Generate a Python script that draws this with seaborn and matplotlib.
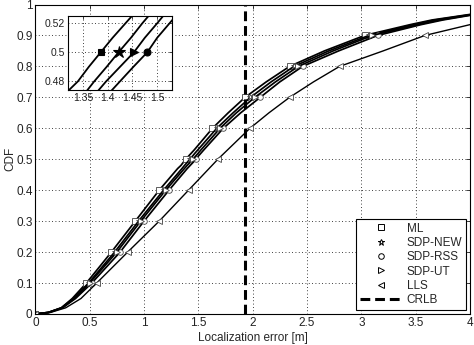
import numpy as np
import matplotlib
matplotlib.use("Agg")
import matplotlib.pyplot as plt
from matplotlib.lines import Line2D
import seaborn as sns

# ---------------- data ----------------
ml_y = [0, 0.005, 0.02, 0.05, 0.1, 0.2, 0.3, 0.4, 0.47, 0.48, 0.49, 0.5, 0.51, 0.52, 0.53,
        0.6, 0.65, 0.7, 0.75, 0.8, 0.85, 0.9, 0.935, 0.95, 0.968]
ml_x = [0, 0.12, 0.24, 0.34, 0.47, 0.70, 0.92, 1.14, 1.31, 1.34, 1.362, 1.386, 1.41, 1.436, 1.462,
        1.63, 1.775, 1.93, 2.125, 2.34, 2.66, 3.03, 3.45, 3.65, 4.0]

new_y = [0, 0.005, 0.02, 0.05, 0.1, 0.2, 0.3, 0.4, 0.47, 0.48, 0.49, 0.5, 0.51, 0.52, 0.53,
         0.6, 0.65, 0.7, 0.75, 0.8, 0.85, 0.9, 0.935, 0.95, 0.967]
new_x = [0, 0.12, 0.24, 0.35, 0.49, 0.73, 0.95, 1.18, 1.35, 1.373, 1.398, 1.422, 1.447, 1.47, 1.495,
         1.67, 1.82, 1.98, 2.17, 2.38, 2.70, 3.07, 3.48, 3.68, 4.0]

rss_y = [0, 0.005, 0.02, 0.05, 0.1, 0.2, 0.3, 0.4, 0.47, 0.48, 0.49, 0.5, 0.51, 0.52, 0.53,
         0.6, 0.65, 0.7, 0.75, 0.8, 0.85, 0.9, 0.935, 0.95, 0.965]
rss_x = [0, 0.13, 0.25, 0.37, 0.52, 0.78, 1.00, 1.23, 1.398, 1.425, 1.452, 1.480, 1.50, 1.525, 1.55,
         1.73, 1.89, 2.07, 2.25, 2.46, 2.79, 3.15, 3.55, 3.75, 4.0]

ut_y = [0, 0.005, 0.02, 0.05, 0.1, 0.2, 0.3, 0.4, 0.47, 0.48, 0.49, 0.5, 0.51, 0.52, 0.53,
        0.6, 0.65, 0.7, 0.75, 0.8, 0.85, 0.9, 0.935, 0.95, 0.966]
ut_x = [0, 0.12, 0.25, 0.36, 0.50, 0.75, 0.97, 1.20, 1.372, 1.397, 1.425, 1.453, 1.475, 1.50, 1.524,
        1.70, 1.85, 2.02, 2.21, 2.42, 2.74, 3.10, 3.52, 3.72, 4.0]

lls_y = [0, 0.005, 0.02, 0.05, 0.1, 0.2, 0.3, 0.4, 0.5, 0.6, 0.65, 0.7, 0.75, 0.8, 0.825, 0.85,
         0.889, 0.9, 0.935]
lls_x = [0, 0.14, 0.28, 0.42, 0.565, 0.85, 1.14, 1.41, 1.68, 1.975, 2.15, 2.34, 2.56, 2.80, 3.0, 3.2,
         3.5, 3.585, 4.0]

crlb_x = 1.93

labels = ["ML", "SDP-NEW", "SDP-RSS", "SDP-UT", "LLS"]
markers = ["s", "*", "o", ">", "<"]

x_ticks = [0, 0.5, 1, 1.5, 2, 2.5, 3, 3.5, 4]
x_tick_labels = ["0", "0.5", "1", "1.5", "2", "2.5", "3", "3.5", "4"]
y_ticks = [0, 0.1, 0.2, 0.3, 0.4, 0.5, 0.6, 0.7, 0.8, 0.9, 1]
y_tick_labels = ["0", "0.1", "0.2", "0.3", "0.4", "0.5", "0.6", "0.7", "0.8", "0.9", "1"]
inset_x_ticks = [1.35, 1.4, 1.45, 1.5]
inset_x_tick_labels = ["1.35", "1.4", "1.45", "1.5"]
inset_y_ticks = [0.48, 0.5, 0.52]
inset_y_tick_labels = ["0.48", "0.5", "0.52"]

# ---------------- style ----------------
sns.set_theme(style="white")
plt.rcParams["font.family"] = ["Liberation Sans", "DejaVu Sans"]
plt.rcParams["font.size"] = 8.5
plt.rcParams["xtick.direction"] = "in"
plt.rcParams["ytick.direction"] = "in"

fig = plt.figure(figsize=(4.74, 3.45), dpi=100)
ax = fig.add_axes([0.0745, 0.0899, 0.917, 0.897])

series = [(ml_x, ml_y), (new_x, new_y), (rss_x, rss_y), (ut_x, ut_y), (lls_x, lls_y)]
msizes = [3.8, 5.0, 4.0, 4.0, 4.0]
lws = [1.25, 1.25, 1.25, 1.25, 1.0]

for (xs, ys), mk, ms, lw in zip(series, markers, msizes, lws):
    idx = [i for i, v in enumerate(ys) if np.isclose(v * 10, round(v * 10)) and v < 0.95]
    sns.lineplot(x=xs, y=ys, ax=ax, sort=False, estimator=None, color="black",
                 lw=lw, marker=mk, markevery=idx, ms=ms, mfc="white",
                 mec="#444444", mew=0.6)

ax.axvline(crlb_x, color="black", lw=2.2, ls=(0, (3.2, 1.6)))

ax.set_xlim(0, 4)
ax.set_ylim(0, 1)
ax.set_xticks(x_ticks)
ax.set_xticklabels(x_tick_labels)
ax.set_yticks(y_ticks)
ax.set_yticklabels(y_tick_labels)
ax.tick_params(axis="both", which="both", direction="in", length=3, width=0.6,
               top=True, right=True, labelsize=8.5, pad=2, colors="#222222")
ax.grid(True, color="black", ls=(0, (1, 3)), lw=0.6)
for sp in ax.spines.values():
    sp.set_color("black")
    sp.set_linewidth(0.8)
ax.set_xlabel("Localization error [m]", fontsize=8.5, labelpad=2.5)
ax.set_ylabel("CDF", fontsize=8.5, labelpad=0)

handles = []
for lab, mk, ms in zip(labels, markers, msizes):
    handles.append(Line2D([], [], ls="none", marker=mk, ms=ms, mfc="white",
                          mec="black", mew=0.7, label=lab))
handles.append(Line2D([], [], color="black", lw=2.2, ls=(0, (3.2, 1.6)), label="CRLB"))
leg = ax.legend(handles=handles, loc="lower right", fontsize=8.5, frameon=True,
                fancybox=False, edgecolor="black", framealpha=1,
                handlelength=3.6, handletextpad=0.35, labelspacing=0.2,
                borderpad=0.3, borderaxespad=0.35)
leg.get_frame().set_linewidth(0.8)

# ---------------- inset ----------------
axins = fig.add_axes([0.1435, 0.739, 0.2194, 0.2145])
axins.set_facecolor("white")
in_markers = ["s", "*", "o", ">"]
in_ms = [5.0, 9.0, 5.0, 6.0]
for (xs, ys), mk, ms in zip(series[:4], in_markers, in_ms):
    idx = [i for i, v in enumerate(ys) if np.isclose(v, 0.5)]
    sns.lineplot(x=xs, y=ys, ax=axins, sort=False, estimator=None, color="black",
                 lw=1.3, marker=mk, markevery=idx, ms=ms, mfc="black",
                 mec="black", mew=0.8)
axins.set_xlim(1.32, 1.53)
axins.set_ylim(0.474, 0.525)
axins.set_xticks(inset_x_ticks)
axins.set_xticklabels(inset_x_tick_labels)
axins.set_yticks(inset_y_ticks)
axins.set_yticklabels(inset_y_tick_labels)
axins.tick_params(axis="both", direction="in", length=2.5, width=0.6,
                  top=True, right=True, labelsize=7.5, pad=2, colors="#222222")
axins.grid(True, color="black", ls=(0, (1, 3)), lw=0.6)
for sp in axins.spines.values():
    sp.set_color("black")
    sp.set_linewidth(0.8)
axins.set_xlabel("")
axins.set_ylabel("")

fig.savefig("out.png", dpi=100)
